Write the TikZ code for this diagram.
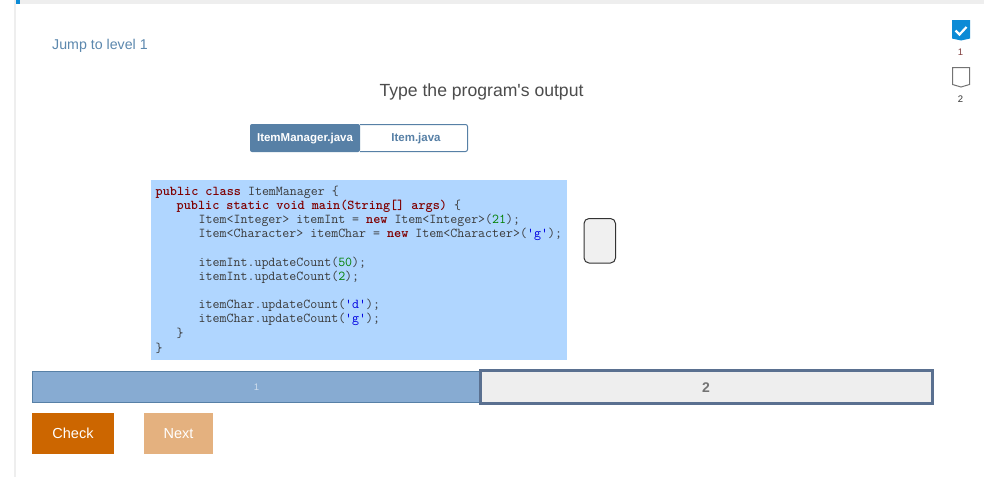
\documentclass[tikz,border=0pt]{standalone}
\usepackage{fontspec}
\setmainfont{Liberation Sans}
\newfontfamily\plainsans{Liberation Sans}
\definecolor{codebg}{HTML}{B0D6FF}
\definecolor{kw}{HTML}{7F0000}
\definecolor{txt}{HTML}{3A3A3A}
\definecolor{strc}{HTML}{0000E0}
\definecolor{numc}{HTML}{008000}
\definecolor{tabblue}{HTML}{5780A6}
\definecolor{barblue}{HTML}{87ABD2}
\definecolor{slate}{HTML}{5A7090}
\definecolor{lightg}{HTML}{EEEEEE}
\definecolor{checkc}{HTML}{CC6600}
\definecolor{nextc}{HTML}{E4B17F}
\definecolor{markblue}{HTML}{0C8BD6}
\definecolor{linkc}{HTML}{5C88AE}
\newcommand{\kw}[1]{{\bfseries\color{kw}#1}}
\newcommand{\st}[1]{{\color{strc}#1}}
\newcommand{\nm}[1]{{\color{numc}#1}}
\tikzset{
  x=1pt,y=-1pt,
  label text/.style={inner sep=0pt,font=\fontsize{14.2}{16}\selectfont},
  code/.style={anchor=base west,inner sep=0pt,text=txt,font=\fontsize{13.55}{14}\ttfamily},
  btn/.style={inner sep=0pt,text=white,font=\fontsize{14.5}{17}\selectfont},
  tab/.style={inner sep=0pt,font=\fontsize{11.5}{14}\bfseries},
  levelnum/.style={inner sep=0pt,font=\fontsize{9.5}{11}\selectfont}
}
\begin{document}
\begin{tikzpicture}
\useasboundingbox (0,0) rectangle (984,477);
\fill[white] (0,0) rectangle (984,477);
% page frame
\fill[lightg] (14,0) rectangle (16,477);
\fill[lightg] (16,0) rectangle (984,4);
\fill[markblue] (16,0) rectangle (20,4);
\node[label text,text=linkc,anchor=west] (jump) at (52,45.5) {Jump to level 1};
\node[inner sep=0pt,text=black!70,font=\plainsans\fontsize{17.6}{22}\selectfont] (title) at (481.5,91.5) {Type the program's output};
% tabs
\fill[tabblue,rounded corners=2pt] (250,124) rectangle (360,152);
\draw[tabblue,rounded corners=2pt,line width=1pt] (360,124.5) -- (467.5,124.5) -- (467.5,151.5) -- (360,151.5);
\node[tab,text=white] (tabA) at (305,139) {ItemManager.java};
\node[tab,text=tabblue] (tabB) at (416,139) {Item.java};
% code
\fill[codebg] (151,180) rectangle (567,360);
\node[code] (l1) at (155.5,195) {\kw{public class} ItemManager \{};
\node[code] (l2) at (176.5,209) {\kw{public static void main(String[] args)} \{};
\node[code] (l3) at (198.5,223) {Item<Integer> itemInt = \kw{new} Item<Integer>(\nm{21});};
\node[code] (l4) at (198.5,237) {Item<Character> itemChar = \kw{new} Item<Character>(\st{'g'});};
\node[code] (l5) at (198.5,266) {itemInt.updateCount(\nm{50});};
\node[code] (l6) at (198.5,280) {itemInt.updateCount(\nm{2});};
\node[code] (l7) at (198.5,308) {itemChar.updateCount(\st{'d'});};
\node[code] (l8) at (198.5,322) {itemChar.updateCount(\st{'g'});};
\node[code] (l9) at (176.5,337) {\}};
\node[code] (l10) at (155.5,352) {\}};
% answer box
\draw[fill=black!6,draw=black!80,line width=1pt,rounded corners=5pt] (584,218.5) rectangle (615.5,263);
% progress
\draw[fill=barblue,draw=tabblue,line width=1pt] (32.5,371.5) rectangle (480,402.5);
\node[levelnum,text=white!60!barblue] (p1) at (256.5,387) {1};
\draw[fill=lightg,draw=slate,line width=3pt] (480.5,370.5) rectangle (932,403.5);
\node[inner sep=0pt,text=black!55,font=\fontsize{14}{16}\bfseries] (p2) at (706,387.5) {2};
% buttons
\fill[checkc] (32,413) rectangle (114,454);
\node[btn] (check) at (73,433.5) {Check};
\fill[nextc] (144,413) rectangle (213,454);
\node[btn] (next) at (178.5,433.5) {Next};
% level markers
\fill[markblue] (952,20) -- (970,20) -- (970,38.5) -- (961,40.5) -- (952,38.5) -- cycle;
\draw[white,line width=2.2pt] (955.5,30.5) -- (959.5,34.5) -- (966.5,27);
\node[levelnum,text=red!35!black!75] (m1) at (960.5,52) {1};
\draw[black!55,line width=1pt] (952.5,67.5) -- (969.5,67.5) -- (969.5,84.5) -- (961,87) -- (952.5,84.5) -- cycle;
\node[levelnum,text=black!80] (m2) at (960.5,99) {2};
\end{tikzpicture}
\end{document}
